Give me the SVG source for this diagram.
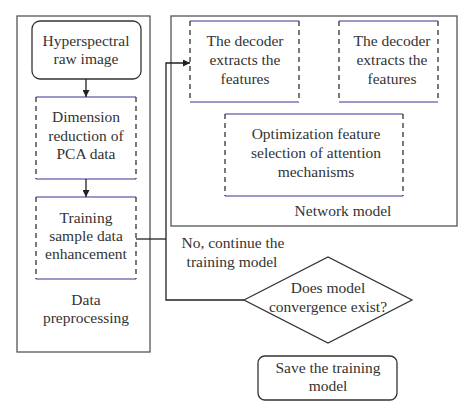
<svg xmlns="http://www.w3.org/2000/svg" width="474" height="417" viewBox="0 0 474 417">
<defs>
<marker id="arr" viewBox="0 0 10 10" refX="10" refY="5" markerWidth="7" markerHeight="7" markerUnits="userSpaceOnUse" orient="auto">
<path d="M0,0 L10,5 L0,10 z" fill="#222"/>
</marker>
</defs>
<style>
text{font-family:"Liberation Serif","Times New Roman",serif;font-size:15.5px;fill:#333;text-anchor:middle}
.frame{fill:#fff;stroke:#555;stroke-width:1.3}
.solid{fill:#fff;stroke:#333;stroke-width:1.3}
.dside{stroke:#333;stroke-width:1.3;stroke-dasharray:5,4;fill:none}
.blue{stroke:#7777b8;stroke-width:1.3;fill:none}
.conn{fill:none;stroke:#222;stroke-width:1.3}
</style>
<rect width="474" height="417" fill="#fff"/>
<g id="data-preprocessing">
<rect class="frame" x="17" y="16" width="133" height="336"/>
<text x="86" y="305">Data</text>
<text x="86" y="323">preprocessing</text>
</g>
<g id="network-model">
<rect class="frame" x="171" y="16" width="286" height="210"/>
<text x="343" y="216">Network model</text>
</g>
<g id="hyperspectral">
<rect class="solid" x="32" y="21" width="109" height="58" rx="8"/>
<text x="86" y="46">Hyperspectral</text>
<text x="86" y="64">raw image</text>
</g>
<g id="dimension">
<line class="blue" x1="36" y1="97" x2="136" y2="97"/>
<line class="blue" x1="36" y1="179" x2="136" y2="179"/>
<line class="dside" x1="36" y1="97" x2="36" y2="179"/>
<line class="dside" x1="136" y1="97" x2="136" y2="179"/>
<text x="86" y="122">Dimension</text>
<text x="86" y="141">reduction of</text>
<text x="86" y="159">PCA data</text>
</g>
<g id="training">
<line class="blue" x1="36" y1="197" x2="136" y2="197"/>
<line class="blue" x1="36" y1="279" x2="136" y2="279"/>
<line class="dside" x1="36" y1="197" x2="36" y2="279"/>
<line class="dside" x1="136" y1="197" x2="136" y2="279"/>
<text x="86" y="223">Training</text>
<text x="86" y="241">sample data</text>
<text x="86" y="259">enhancement</text>
</g>
<g id="decoder1">
<line class="blue" x1="190" y1="21" x2="299" y2="21"/>
<line class="blue" x1="190" y1="102" x2="299" y2="102"/>
<line class="dside" x1="190" y1="21" x2="190" y2="102"/>
<line class="dside" x1="299" y1="21" x2="299" y2="102"/>
<text x="245" y="46">The decoder</text>
<text x="245" y="65">extracts the</text>
<text x="245" y="84">features</text>
</g>
<g id="decoder2">
<line class="blue" x1="339" y1="21" x2="438" y2="21"/>
<line class="blue" x1="339" y1="102" x2="438" y2="102"/>
<line class="dside" x1="339" y1="21" x2="339" y2="102"/>
<line class="dside" x1="438" y1="21" x2="438" y2="102"/>
<text x="392" y="46">The decoder</text>
<text x="392" y="65">extracts the</text>
<text x="392" y="84">features</text>
</g>
<g id="optimization">
<line class="blue" x1="225" y1="114" x2="403" y2="114"/>
<line class="blue" x1="225" y1="196" x2="403" y2="196"/>
<line class="dside" x1="225" y1="114" x2="225" y2="196"/>
<line class="dside" x1="403" y1="114" x2="403" y2="196"/>
<text x="316" y="139">Optimization feature</text>
<text x="316" y="158">selection of attention</text>
<text x="316" y="177">mechanisms</text>
</g>
<g id="convergence">
<polygon class="solid" points="244,300 328,257 412,300 328,343"/>
<text x="328" y="293">Does model</text>
<text x="328" y="312">convergence exist?</text>
</g>
<g id="save">
<rect class="solid" x="258" y="356" width="139" height="44" rx="7"/>
<text x="328" y="373">Save the training</text>
<text x="328" y="391">model</text>
</g>
<g id="connectors">
<line class="conn" x1="86" y1="79" x2="86" y2="97" marker-end="url(#arr)"/>
<line class="conn" x1="86" y1="179" x2="86" y2="197" marker-end="url(#arr)"/>
<polyline class="conn" points="136,239 166,239"/>
<polyline class="conn" points="244,300 166,300 166,63 190,63" marker-end="url(#arr)"/>
<text x="233" y="248">No, continue the</text>
<text x="232" y="267">training model</text>
</g>
</svg>
